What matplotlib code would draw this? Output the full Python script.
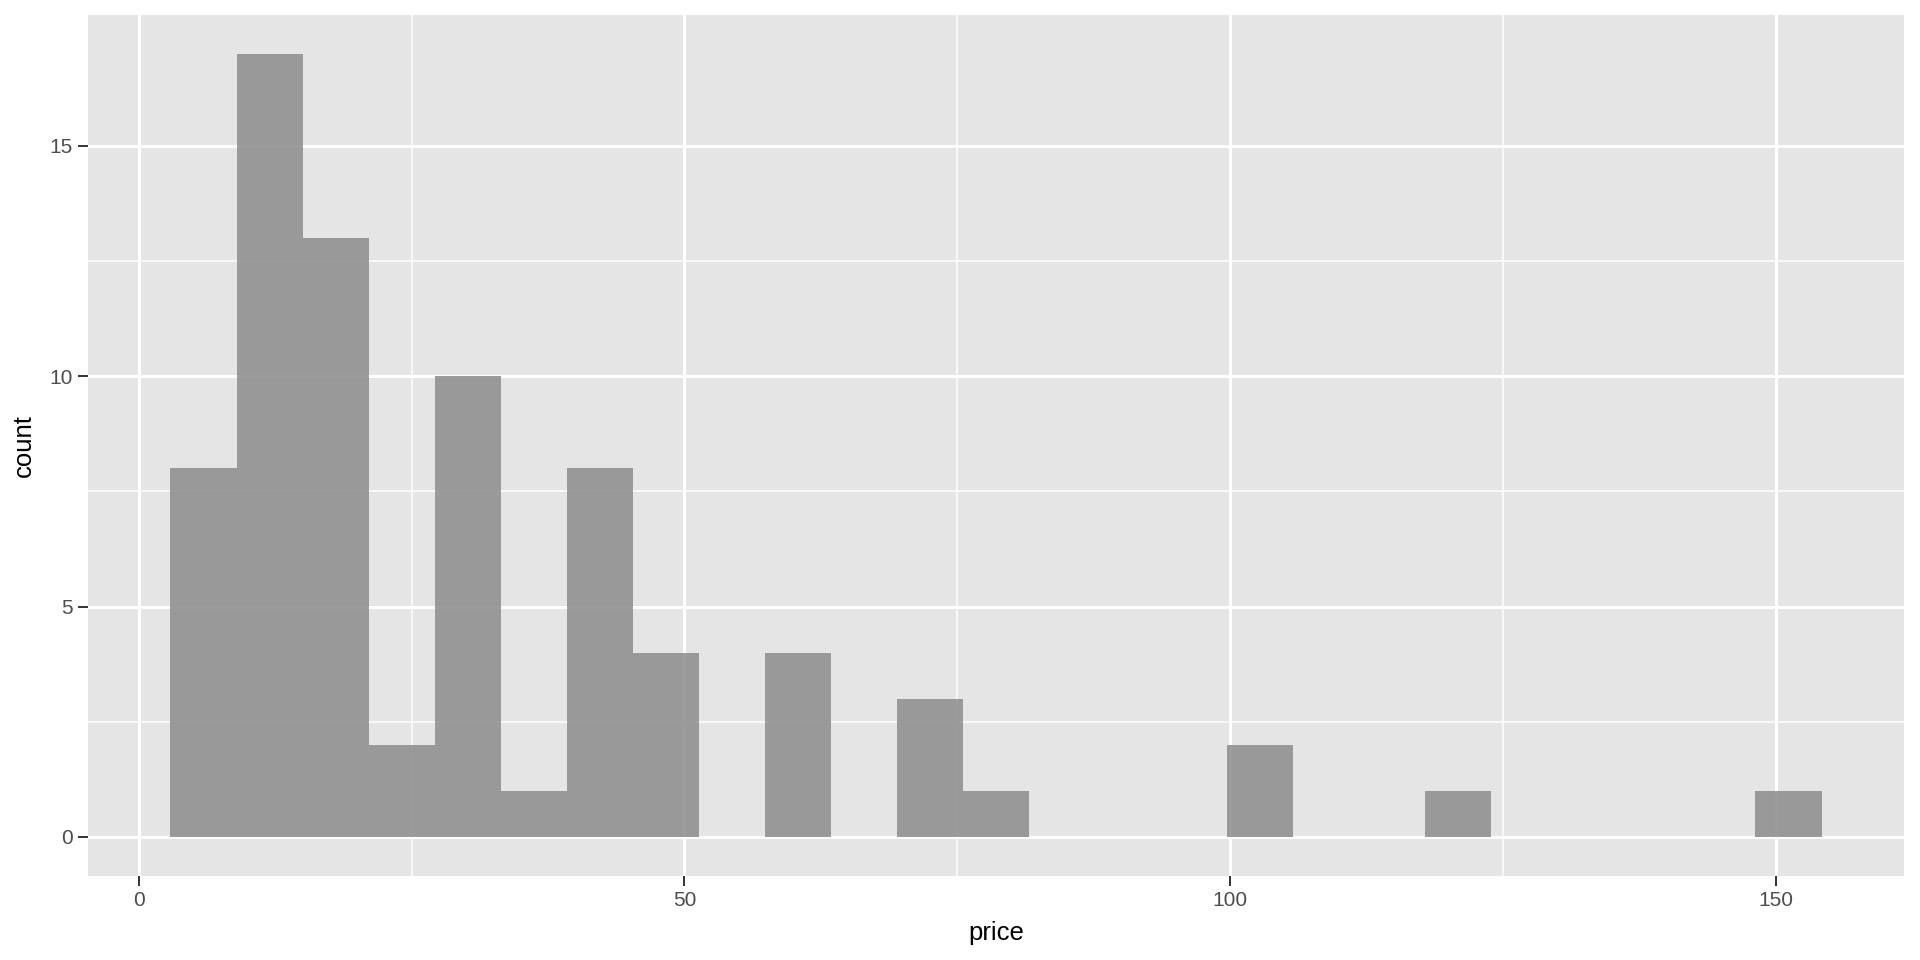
import matplotlib
matplotlib.use("Agg")
import matplotlib.pyplot as plt
import numpy as np

# histogram bins (ggplot style, 25 bins)
bin_start = 2.92
bin_width = 6.05
counts = [8, 17, 13, 2, 10, 1, 8, 4, 0, 4, 0, 3, 1, 0, 0, 0, 2, 0, 0, 1, 0, 0, 0, 0, 1]
x_ticks = [0, 50, 100, 150]
y_ticks = [0, 5, 10, 15]

plt.rcParams['font.family'] = ['Liberation Sans', 'DejaVu Sans']

fig = plt.figure(figsize=(19.2, 9.6), dpi=100)
ax = fig.add_axes([0.0458, 0.0875, 0.9917 - 0.0458, 0.9847 - 0.0875])
ax.set_facecolor('#E5E5E5')

edges = bin_start + bin_width * np.arange(len(counts) + 1)
ax.bar(edges[:-1], counts, width=bin_width, align='edge',
       color='#919191', alpha=0.9, linewidth=0, zorder=3)

lo, hi = edges[0], edges[-1]
pad = (hi - lo) * 0.05
ax.set_xlim(lo - pad, hi + pad)
ymax = max(counts)
ax.set_ylim(-ymax * 0.05, ymax * 1.05)

ax.set_xticks(x_ticks)
ax.set_yticks(y_ticks)
ax.set_xticks([25, 75, 125], minor=True)
ax.set_yticks([2.5, 7.5, 12.5], minor=True)
ax.grid(which='major', color='white', linewidth=2.2, zorder=1)
ax.grid(which='minor', color='white', linewidth=1.1, zorder=1)
ax.set_axisbelow(True)

for s in ax.spines.values():
    s.set_visible(False)

ax.tick_params(which='major', length=7, width=1.4, color='#333333',
               labelsize=15, labelcolor='#4D4D4D', pad=4)
ax.tick_params(which='minor', length=0)

ax.set_xlabel('price', fontsize=18.5, color='black', labelpad=8)
ax.set_ylabel('count', fontsize=18.5, color='black', labelpad=10)

fig.savefig('out.png', dpi=100, facecolor='white')
